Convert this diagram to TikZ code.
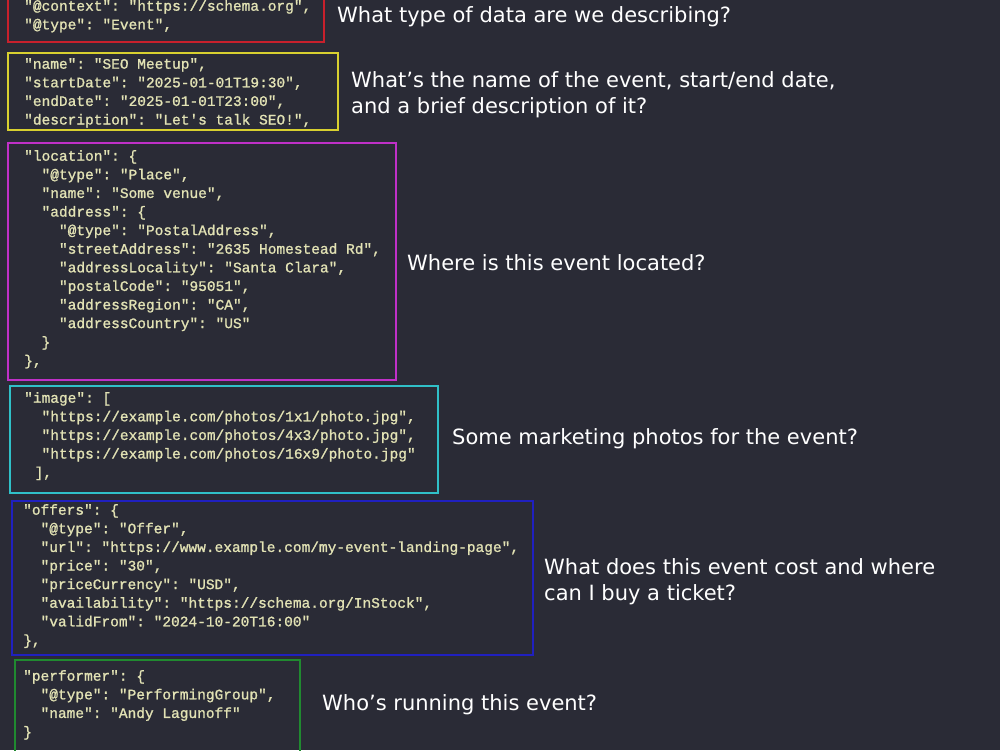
\documentclass[tikz,border=0pt]{standalone}
\usepackage{fontspec}
\setmainfont{DejaVu Sans}
\setmonofont[FakeBold=1.2,BoldFont={Liberation Mono}]{Liberation Mono}
\definecolor{bg}{HTML}{2A2B36}
\definecolor{code}{HTML}{E2E2B4}
\definecolor{bred}{HTML}{C8202C}
\definecolor{byel}{HTML}{D8D030}
\definecolor{bmag}{HTML}{C030C8}
\definecolor{bcya}{HTML}{30C0C8}
\definecolor{bblu}{HTML}{2020C0}
\definecolor{bgrn}{HTML}{208A30}
\newcommand{\ind}[1]{\hspace*{#1\dimexpr 17.4pt\relax}}
\tikzset{
  box/.style={draw=#1, line width=2pt},
  codetxt/.style={anchor=north west, inner sep=0pt, align=left, text=code,
    font=\ttfamily\fontsize{14.5}{18.6}\selectfont},
  lab/.style={anchor=west, inner sep=0pt, align=left, text=white,
    font=\fontsize{21}{26}\selectfont},
}
\begin{document}
\begin{tikzpicture}[x=1pt,y=-1pt]
\fill[bg] (0,0) rectangle (1000,750);
\useasboundingbox (0,0) rectangle (1000,750);
% boxes
\draw[box=bred] (8,-5) rectangle (324,42);
\draw[box=byel] (8,53) rectangle (338,130);
\draw[box=bmag] (8,143) rectangle (396,380);
\draw[box=bcya] (10,386) rectangle (438,493);
\draw[box=bblu] (12,501) rectangle (533,655);
\draw[box=bgrn] (15,660) rectangle (300,760);
% code
\node[codetxt] (c1) at (24,0) {"@context": "https://schema.org",\\"@type": "Event",};
\node[codetxt] (c2) at (24,58) {"name": "SEO Meetup",\\"startDate": "2025-01-01T19:30",\\"endDate": "2025-01-01T23:00",\\"description": "Let's talk SEO!",};
\node[codetxt] (c3) at (24,150) {"location": \{\\
\ind{1}"@type": "Place",\\
\ind{1}"name": "Some venue",\\
\ind{1}"address": \{\\
\ind{2}"@type": "PostalAddress",\\
\ind{2}"streetAddress": "2635 Homestead Rd",\\
\ind{2}"addressLocality": "Santa Clara",\\
\ind{2}"postalCode": "95051",\\
\ind{2}"addressRegion": "CA",\\
\ind{2}"addressCountry": "US"\\
\ind{1}\}\\
\},};
\node[codetxt] (c4) at (24,392) {"image": [\\
\ind{1}"https://example.com/photos/1x1/photo.jpg",\\
\ind{1}"https://example.com/photos/4x3/photo.jpg",\\
\ind{1}"https://example.com/photos/16x9/photo.jpg"\\
\ind{0.6}],};
\node[codetxt] (c5) at (23,504) {"offers": \{\\
\ind{1}"@type": "Offer",\\
\ind{1}"url": "https://www.example.com/my-event-landing-page",\\
\ind{1}"price": "30",\\
\ind{1}"priceCurrency": "USD",\\
\ind{1}"availability": "https://schema.org/InStock",\\
\ind{1}"validFrom": "2024-10-20T16:00"\\
\},};
\node[codetxt] (c6) at (23,670) {"performer": \{\\
\ind{1}"@type": "PerformingGroup",\\
\ind{1}"name": "Andy Lagunoff"\\
\}};
% labels
\node[lab] (l1) at (337,17) {What type of data are we describing?};
\node[lab] (l2) at (351,95) {What's the name of the event, start/end date,\\and a brief description of it?};
\node[lab] (l3) at (407,263) {Where is this event located?};
\node[lab] (l4) at (452,439) {Some marketing photos for the event?};
\node[lab] (l5) at (544,582) {What does this event cost and where\\can I buy a ticket?};
\node[lab] (l6) at (322,705) {Who's running this event?};
\end{tikzpicture}
\end{document}
